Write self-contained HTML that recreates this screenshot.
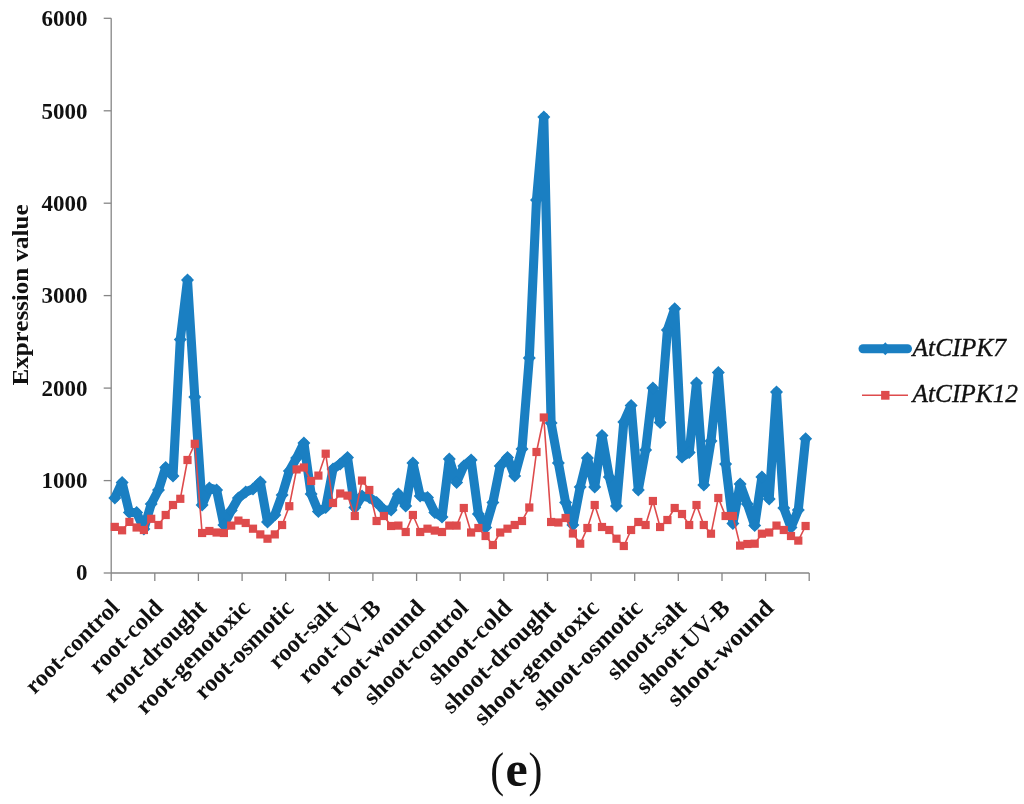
<!DOCTYPE html><html><head><meta charset="utf-8"><title>Expression value</title>
<style>html,body{margin:0;padding:0;background:#fff}svg{display:block}text{font-family:"Liberation Serif", serif;fill:#111}</style></head><body>
<svg width="1024" height="804" viewBox="0 0 1024 804">
<rect width="1024" height="804" fill="#fff"/>
<g stroke="#868686" stroke-width="1.3" fill="none">
<path d="M111.2 18.3 V573.0"/>
<path d="M111.2 573.0 H809.2"/>
<path d="M103.7 573.0 H111.2"/>
<path d="M103.7 480.6 H111.2"/>
<path d="M103.7 388.1 H111.2"/>
<path d="M103.7 295.6 H111.2"/>
<path d="M103.7 203.2 H111.2"/>
<path d="M103.7 110.8 H111.2"/>
<path d="M103.7 18.3 H111.2"/>
<path d="M111.2 573.0 V581.0"/>
<path d="M154.8 573.0 V581.0"/>
<path d="M198.4 573.0 V581.0"/>
<path d="M242.1 573.0 V581.0"/>
<path d="M285.7 573.0 V581.0"/>
<path d="M329.3 573.0 V581.0"/>
<path d="M372.9 573.0 V581.0"/>
<path d="M416.6 573.0 V581.0"/>
<path d="M460.2 573.0 V581.0"/>
<path d="M503.8 573.0 V581.0"/>
<path d="M547.5 573.0 V581.0"/>
<path d="M591.1 573.0 V581.0"/>
<path d="M634.7 573.0 V581.0"/>
<path d="M678.3 573.0 V581.0"/>
<path d="M722.0 573.0 V581.0"/>
<path d="M765.6 573.0 V581.0"/>
<path d="M809.2 573.0 V581.0"/>
</g>
<g font-size="23" font-weight="bold" text-anchor="end">
<text x="87.5" y="580.4">0</text>
<text x="87.5" y="488.0">1000</text>
<text x="87.5" y="395.7">2000</text>
<text x="87.5" y="303.3">3000</text>
<text x="87.5" y="210.9">4000</text>
<text x="87.5" y="118.6">5000</text>
<text x="87.5" y="26.2">6000</text>
</g>
<text font-size="24" font-weight="bold" text-anchor="middle" textLength="181" lengthAdjust="spacingAndGlyphs" transform="translate(27.8 295) rotate(-90)">Expression value</text>
<g font-size="24" font-weight="bold" text-anchor="end" lengthAdjust="spacingAndGlyphs">
<text textLength="121.5" lengthAdjust="spacingAndGlyphs" transform="translate(120.5 609.2) rotate(-45)">root-control</text>
<text textLength="93.0" lengthAdjust="spacingAndGlyphs" transform="translate(164.1 609.2) rotate(-45)">root-cold</text>
<text textLength="133.8" lengthAdjust="spacingAndGlyphs" transform="translate(207.8 609.2) rotate(-45)">root-drought</text>
<text textLength="150.5" lengthAdjust="spacingAndGlyphs" transform="translate(251.4 609.2) rotate(-45)">root-genotoxic</text>
<text textLength="129.2" lengthAdjust="spacingAndGlyphs" transform="translate(295.0 609.2) rotate(-45)">root-osmotic</text>
<text textLength="86.0" lengthAdjust="spacingAndGlyphs" transform="translate(338.6 609.2) rotate(-45)">root-salt</text>
<text textLength="106.3" lengthAdjust="spacingAndGlyphs" transform="translate(382.3 609.2) rotate(-45)">root-UV-B</text>
<text textLength="123.9" lengthAdjust="spacingAndGlyphs" transform="translate(425.9 609.2) rotate(-45)">root-wound</text>
<text textLength="137.0" lengthAdjust="spacingAndGlyphs" transform="translate(469.5 609.2) rotate(-45)">shoot-control</text>
<text textLength="108.5" lengthAdjust="spacingAndGlyphs" transform="translate(513.1 609.2) rotate(-45)">shoot-cold</text>
<text textLength="149.3" lengthAdjust="spacingAndGlyphs" transform="translate(556.8 609.2) rotate(-45)">shoot-drought</text>
<text textLength="166.0" lengthAdjust="spacingAndGlyphs" transform="translate(600.4 609.2) rotate(-45)">shoot-genotoxic</text>
<text textLength="144.7" lengthAdjust="spacingAndGlyphs" transform="translate(644.0 609.2) rotate(-45)">shoot-osmotic</text>
<text textLength="101.5" lengthAdjust="spacingAndGlyphs" transform="translate(687.6 609.2) rotate(-45)">shoot-salt</text>
<text textLength="121.8" lengthAdjust="spacingAndGlyphs" transform="translate(731.3 609.2) rotate(-45)">shoot-UV-B</text>
<text textLength="139.4" lengthAdjust="spacingAndGlyphs" transform="translate(774.9 609.2) rotate(-45)">shoot-wound</text>
</g>
<polyline points="114.8,498.0 122.1,482.5 129.4,512.5 136.6,512.5 143.9,529.0 151.2,504.0 158.5,490.0 165.7,467.5 173.0,476.0 180.3,339.4 187.5,280.0 194.8,397.0 202.1,505.0 209.4,488.0 216.6,490.0 223.9,525.0 231.2,510.5 238.4,498.0 245.7,492.0 253.0,489.0 260.3,482.0 267.5,522.0 274.8,515.0 282.1,495.0 289.3,471.0 296.6,458.0 303.9,443.0 311.1,494.0 318.4,511.5 325.7,507.5 333.0,469.0 340.2,464.0 347.5,457.5 354.8,507.5 362.0,496.0 369.3,497.5 376.6,502.5 383.9,510.0 391.1,510.0 398.4,494.0 405.7,506.0 412.9,463.0 420.2,496.0 427.5,497.5 434.8,512.5 442.0,517.0 449.3,459.0 456.6,482.5 463.8,466.0 471.1,460.0 478.4,514.0 485.6,527.5 492.9,502.5 500.2,466.0 507.5,457.5 514.7,476.0 522.0,449.0 529.3,358.0 536.5,200.0 543.8,117.0 551.1,423.0 558.4,463.0 565.6,502.5 572.9,525.0 580.2,487.0 587.4,458.0 594.7,487.0 602.0,435.6 609.3,477.0 616.5,506.0 623.8,422.0 631.1,405.6 638.3,490.0 645.6,450.0 652.9,388.0 660.1,422.5 667.4,330.0 674.7,308.8 682.0,457.0 689.2,452.5 696.5,383.0 703.8,485.0 711.0,441.0 718.3,372.5 725.6,464.0 732.9,523.5 740.1,484.0 747.4,504.0 754.7,525.5 761.9,477.0 769.2,499.0 776.5,392.0 783.8,508.0 791.0,527.5 798.3,510.0 805.6,438.8" fill="none" stroke="#1a7fc2" stroke-width="9.1" stroke-linejoin="round" stroke-linecap="round"/>
<g fill="#1a7fc2">
<path d="M114.8 491.5l6.5 6.5l-6.5 6.5l-6.5 -6.5z"/>
<path d="M122.1 476.0l6.5 6.5l-6.5 6.5l-6.5 -6.5z"/>
<path d="M129.4 506.0l6.5 6.5l-6.5 6.5l-6.5 -6.5z"/>
<path d="M136.6 506.0l6.5 6.5l-6.5 6.5l-6.5 -6.5z"/>
<path d="M143.9 522.5l6.5 6.5l-6.5 6.5l-6.5 -6.5z"/>
<path d="M151.2 497.5l6.5 6.5l-6.5 6.5l-6.5 -6.5z"/>
<path d="M158.5 483.5l6.5 6.5l-6.5 6.5l-6.5 -6.5z"/>
<path d="M165.7 461.0l6.5 6.5l-6.5 6.5l-6.5 -6.5z"/>
<path d="M173.0 469.5l6.5 6.5l-6.5 6.5l-6.5 -6.5z"/>
<path d="M180.3 332.9l6.5 6.5l-6.5 6.5l-6.5 -6.5z"/>
<path d="M187.5 273.5l6.5 6.5l-6.5 6.5l-6.5 -6.5z"/>
<path d="M194.8 390.5l6.5 6.5l-6.5 6.5l-6.5 -6.5z"/>
<path d="M202.1 498.5l6.5 6.5l-6.5 6.5l-6.5 -6.5z"/>
<path d="M209.4 481.5l6.5 6.5l-6.5 6.5l-6.5 -6.5z"/>
<path d="M216.6 483.5l6.5 6.5l-6.5 6.5l-6.5 -6.5z"/>
<path d="M223.9 518.5l6.5 6.5l-6.5 6.5l-6.5 -6.5z"/>
<path d="M231.2 504.0l6.5 6.5l-6.5 6.5l-6.5 -6.5z"/>
<path d="M238.4 491.5l6.5 6.5l-6.5 6.5l-6.5 -6.5z"/>
<path d="M245.7 485.5l6.5 6.5l-6.5 6.5l-6.5 -6.5z"/>
<path d="M253.0 482.5l6.5 6.5l-6.5 6.5l-6.5 -6.5z"/>
<path d="M260.3 475.5l6.5 6.5l-6.5 6.5l-6.5 -6.5z"/>
<path d="M267.5 515.5l6.5 6.5l-6.5 6.5l-6.5 -6.5z"/>
<path d="M274.8 508.5l6.5 6.5l-6.5 6.5l-6.5 -6.5z"/>
<path d="M282.1 488.5l6.5 6.5l-6.5 6.5l-6.5 -6.5z"/>
<path d="M289.3 464.5l6.5 6.5l-6.5 6.5l-6.5 -6.5z"/>
<path d="M296.6 451.5l6.5 6.5l-6.5 6.5l-6.5 -6.5z"/>
<path d="M303.9 436.5l6.5 6.5l-6.5 6.5l-6.5 -6.5z"/>
<path d="M311.1 487.5l6.5 6.5l-6.5 6.5l-6.5 -6.5z"/>
<path d="M318.4 505.0l6.5 6.5l-6.5 6.5l-6.5 -6.5z"/>
<path d="M325.7 501.0l6.5 6.5l-6.5 6.5l-6.5 -6.5z"/>
<path d="M333.0 462.5l6.5 6.5l-6.5 6.5l-6.5 -6.5z"/>
<path d="M340.2 457.5l6.5 6.5l-6.5 6.5l-6.5 -6.5z"/>
<path d="M347.5 451.0l6.5 6.5l-6.5 6.5l-6.5 -6.5z"/>
<path d="M354.8 501.0l6.5 6.5l-6.5 6.5l-6.5 -6.5z"/>
<path d="M362.0 489.5l6.5 6.5l-6.5 6.5l-6.5 -6.5z"/>
<path d="M369.3 491.0l6.5 6.5l-6.5 6.5l-6.5 -6.5z"/>
<path d="M376.6 496.0l6.5 6.5l-6.5 6.5l-6.5 -6.5z"/>
<path d="M383.9 503.5l6.5 6.5l-6.5 6.5l-6.5 -6.5z"/>
<path d="M391.1 503.5l6.5 6.5l-6.5 6.5l-6.5 -6.5z"/>
<path d="M398.4 487.5l6.5 6.5l-6.5 6.5l-6.5 -6.5z"/>
<path d="M405.7 499.5l6.5 6.5l-6.5 6.5l-6.5 -6.5z"/>
<path d="M412.9 456.5l6.5 6.5l-6.5 6.5l-6.5 -6.5z"/>
<path d="M420.2 489.5l6.5 6.5l-6.5 6.5l-6.5 -6.5z"/>
<path d="M427.5 491.0l6.5 6.5l-6.5 6.5l-6.5 -6.5z"/>
<path d="M434.8 506.0l6.5 6.5l-6.5 6.5l-6.5 -6.5z"/>
<path d="M442.0 510.5l6.5 6.5l-6.5 6.5l-6.5 -6.5z"/>
<path d="M449.3 452.5l6.5 6.5l-6.5 6.5l-6.5 -6.5z"/>
<path d="M456.6 476.0l6.5 6.5l-6.5 6.5l-6.5 -6.5z"/>
<path d="M463.8 459.5l6.5 6.5l-6.5 6.5l-6.5 -6.5z"/>
<path d="M471.1 453.5l6.5 6.5l-6.5 6.5l-6.5 -6.5z"/>
<path d="M478.4 507.5l6.5 6.5l-6.5 6.5l-6.5 -6.5z"/>
<path d="M485.6 521.0l6.5 6.5l-6.5 6.5l-6.5 -6.5z"/>
<path d="M492.9 496.0l6.5 6.5l-6.5 6.5l-6.5 -6.5z"/>
<path d="M500.2 459.5l6.5 6.5l-6.5 6.5l-6.5 -6.5z"/>
<path d="M507.5 451.0l6.5 6.5l-6.5 6.5l-6.5 -6.5z"/>
<path d="M514.7 469.5l6.5 6.5l-6.5 6.5l-6.5 -6.5z"/>
<path d="M522.0 442.5l6.5 6.5l-6.5 6.5l-6.5 -6.5z"/>
<path d="M529.3 351.5l6.5 6.5l-6.5 6.5l-6.5 -6.5z"/>
<path d="M536.5 193.5l6.5 6.5l-6.5 6.5l-6.5 -6.5z"/>
<path d="M543.8 110.5l6.5 6.5l-6.5 6.5l-6.5 -6.5z"/>
<path d="M551.1 416.5l6.5 6.5l-6.5 6.5l-6.5 -6.5z"/>
<path d="M558.4 456.5l6.5 6.5l-6.5 6.5l-6.5 -6.5z"/>
<path d="M565.6 496.0l6.5 6.5l-6.5 6.5l-6.5 -6.5z"/>
<path d="M572.9 518.5l6.5 6.5l-6.5 6.5l-6.5 -6.5z"/>
<path d="M580.2 480.5l6.5 6.5l-6.5 6.5l-6.5 -6.5z"/>
<path d="M587.4 451.5l6.5 6.5l-6.5 6.5l-6.5 -6.5z"/>
<path d="M594.7 480.5l6.5 6.5l-6.5 6.5l-6.5 -6.5z"/>
<path d="M602.0 429.1l6.5 6.5l-6.5 6.5l-6.5 -6.5z"/>
<path d="M609.3 470.5l6.5 6.5l-6.5 6.5l-6.5 -6.5z"/>
<path d="M616.5 499.5l6.5 6.5l-6.5 6.5l-6.5 -6.5z"/>
<path d="M623.8 415.5l6.5 6.5l-6.5 6.5l-6.5 -6.5z"/>
<path d="M631.1 399.1l6.5 6.5l-6.5 6.5l-6.5 -6.5z"/>
<path d="M638.3 483.5l6.5 6.5l-6.5 6.5l-6.5 -6.5z"/>
<path d="M645.6 443.5l6.5 6.5l-6.5 6.5l-6.5 -6.5z"/>
<path d="M652.9 381.5l6.5 6.5l-6.5 6.5l-6.5 -6.5z"/>
<path d="M660.1 416.0l6.5 6.5l-6.5 6.5l-6.5 -6.5z"/>
<path d="M667.4 323.5l6.5 6.5l-6.5 6.5l-6.5 -6.5z"/>
<path d="M674.7 302.2l6.5 6.5l-6.5 6.5l-6.5 -6.5z"/>
<path d="M682.0 450.5l6.5 6.5l-6.5 6.5l-6.5 -6.5z"/>
<path d="M689.2 446.0l6.5 6.5l-6.5 6.5l-6.5 -6.5z"/>
<path d="M696.5 376.5l6.5 6.5l-6.5 6.5l-6.5 -6.5z"/>
<path d="M703.8 478.5l6.5 6.5l-6.5 6.5l-6.5 -6.5z"/>
<path d="M711.0 434.5l6.5 6.5l-6.5 6.5l-6.5 -6.5z"/>
<path d="M718.3 366.0l6.5 6.5l-6.5 6.5l-6.5 -6.5z"/>
<path d="M725.6 457.5l6.5 6.5l-6.5 6.5l-6.5 -6.5z"/>
<path d="M732.9 517.0l6.5 6.5l-6.5 6.5l-6.5 -6.5z"/>
<path d="M740.1 477.5l6.5 6.5l-6.5 6.5l-6.5 -6.5z"/>
<path d="M747.4 497.5l6.5 6.5l-6.5 6.5l-6.5 -6.5z"/>
<path d="M754.7 519.0l6.5 6.5l-6.5 6.5l-6.5 -6.5z"/>
<path d="M761.9 470.5l6.5 6.5l-6.5 6.5l-6.5 -6.5z"/>
<path d="M769.2 492.5l6.5 6.5l-6.5 6.5l-6.5 -6.5z"/>
<path d="M776.5 385.5l6.5 6.5l-6.5 6.5l-6.5 -6.5z"/>
<path d="M783.8 501.5l6.5 6.5l-6.5 6.5l-6.5 -6.5z"/>
<path d="M791.0 521.0l6.5 6.5l-6.5 6.5l-6.5 -6.5z"/>
<path d="M798.3 503.5l6.5 6.5l-6.5 6.5l-6.5 -6.5z"/>
<path d="M805.6 432.2l6.5 6.5l-6.5 6.5l-6.5 -6.5z"/>
</g>
<polyline points="114.8,526.9 122.1,530.3 129.4,521.9 136.6,527.5 143.9,530.0 151.2,518.8 158.5,525.0 165.7,515.0 173.0,505.0 180.3,498.8 187.5,460.0 194.8,443.8 202.1,533.0 209.4,531.0 216.6,532.5 223.9,533.0 231.2,525.6 238.4,520.6 245.7,523.0 253.0,528.8 260.3,534.4 267.5,538.8 274.8,534.4 282.1,525.0 289.3,506.2 296.6,469.4 303.9,467.5 311.1,481.0 318.4,475.6 325.7,453.8 333.0,503.0 340.2,493.5 347.5,495.6 354.8,516.0 362.0,480.6 369.3,490.0 376.6,521.0 383.9,516.0 391.1,526.0 398.4,525.6 405.7,532.0 412.9,515.0 420.2,532.0 427.5,528.8 434.8,530.6 442.0,532.0 449.3,525.6 456.6,525.6 463.8,508.0 471.1,532.5 478.4,528.0 485.6,536.0 492.9,545.0 500.2,532.5 507.5,528.8 514.7,525.0 522.0,521.0 529.3,507.5 536.5,452.0 543.8,417.5 551.1,522.0 558.4,522.5 565.6,518.0 572.9,533.5 580.2,543.8 587.4,528.0 594.7,505.0 602.0,527.0 609.3,530.0 616.5,538.8 623.8,546.0 631.1,530.0 638.3,522.0 645.6,525.0 652.9,501.0 660.1,527.0 667.4,520.0 674.7,508.0 682.0,514.0 689.2,525.0 696.5,505.0 703.8,525.0 711.0,533.8 718.3,498.0 725.6,516.0 732.9,516.0 740.1,545.6 747.4,544.0 754.7,543.8 761.9,533.8 769.2,532.5 776.5,525.6 783.8,530.0 791.0,536.0 798.3,540.6 805.6,526.0" fill="none" stroke="#de4b4c" stroke-width="1.6" stroke-linejoin="round"/>
<g fill="#de4b4c">
<rect x="110.7" y="522.8" width="8.2" height="8.2"/>
<rect x="118.0" y="526.2" width="8.2" height="8.2"/>
<rect x="125.3" y="517.8" width="8.2" height="8.2"/>
<rect x="132.5" y="523.4" width="8.2" height="8.2"/>
<rect x="139.8" y="525.9" width="8.2" height="8.2"/>
<rect x="147.1" y="514.7" width="8.2" height="8.2"/>
<rect x="154.4" y="520.9" width="8.2" height="8.2"/>
<rect x="161.6" y="510.9" width="8.2" height="8.2"/>
<rect x="168.9" y="500.9" width="8.2" height="8.2"/>
<rect x="176.2" y="494.7" width="8.2" height="8.2"/>
<rect x="183.4" y="455.9" width="8.2" height="8.2"/>
<rect x="190.7" y="439.7" width="8.2" height="8.2"/>
<rect x="198.0" y="528.9" width="8.2" height="8.2"/>
<rect x="205.3" y="526.9" width="8.2" height="8.2"/>
<rect x="212.5" y="528.4" width="8.2" height="8.2"/>
<rect x="219.8" y="528.9" width="8.2" height="8.2"/>
<rect x="227.1" y="521.5" width="8.2" height="8.2"/>
<rect x="234.3" y="516.5" width="8.2" height="8.2"/>
<rect x="241.6" y="518.9" width="8.2" height="8.2"/>
<rect x="248.9" y="524.6" width="8.2" height="8.2"/>
<rect x="256.2" y="530.3" width="8.2" height="8.2"/>
<rect x="263.4" y="534.6" width="8.2" height="8.2"/>
<rect x="270.7" y="530.3" width="8.2" height="8.2"/>
<rect x="278.0" y="520.9" width="8.2" height="8.2"/>
<rect x="285.2" y="502.1" width="8.2" height="8.2"/>
<rect x="292.5" y="465.3" width="8.2" height="8.2"/>
<rect x="299.8" y="463.4" width="8.2" height="8.2"/>
<rect x="307.0" y="476.9" width="8.2" height="8.2"/>
<rect x="314.3" y="471.5" width="8.2" height="8.2"/>
<rect x="321.6" y="449.6" width="8.2" height="8.2"/>
<rect x="328.9" y="498.9" width="8.2" height="8.2"/>
<rect x="336.1" y="489.4" width="8.2" height="8.2"/>
<rect x="343.4" y="491.5" width="8.2" height="8.2"/>
<rect x="350.7" y="511.9" width="8.2" height="8.2"/>
<rect x="357.9" y="476.5" width="8.2" height="8.2"/>
<rect x="365.2" y="485.9" width="8.2" height="8.2"/>
<rect x="372.5" y="516.9" width="8.2" height="8.2"/>
<rect x="379.8" y="511.9" width="8.2" height="8.2"/>
<rect x="387.0" y="521.9" width="8.2" height="8.2"/>
<rect x="394.3" y="521.5" width="8.2" height="8.2"/>
<rect x="401.6" y="527.9" width="8.2" height="8.2"/>
<rect x="408.8" y="510.9" width="8.2" height="8.2"/>
<rect x="416.1" y="527.9" width="8.2" height="8.2"/>
<rect x="423.4" y="524.6" width="8.2" height="8.2"/>
<rect x="430.7" y="526.5" width="8.2" height="8.2"/>
<rect x="437.9" y="527.9" width="8.2" height="8.2"/>
<rect x="445.2" y="521.5" width="8.2" height="8.2"/>
<rect x="452.5" y="521.5" width="8.2" height="8.2"/>
<rect x="459.7" y="503.9" width="8.2" height="8.2"/>
<rect x="467.0" y="528.4" width="8.2" height="8.2"/>
<rect x="474.3" y="523.9" width="8.2" height="8.2"/>
<rect x="481.5" y="531.9" width="8.2" height="8.2"/>
<rect x="488.8" y="540.9" width="8.2" height="8.2"/>
<rect x="496.1" y="528.4" width="8.2" height="8.2"/>
<rect x="503.4" y="524.6" width="8.2" height="8.2"/>
<rect x="510.6" y="520.9" width="8.2" height="8.2"/>
<rect x="517.9" y="516.9" width="8.2" height="8.2"/>
<rect x="525.2" y="503.4" width="8.2" height="8.2"/>
<rect x="532.4" y="447.9" width="8.2" height="8.2"/>
<rect x="539.7" y="413.4" width="8.2" height="8.2"/>
<rect x="547.0" y="517.9" width="8.2" height="8.2"/>
<rect x="554.3" y="518.4" width="8.2" height="8.2"/>
<rect x="561.5" y="513.9" width="8.2" height="8.2"/>
<rect x="568.8" y="529.4" width="8.2" height="8.2"/>
<rect x="576.1" y="539.6" width="8.2" height="8.2"/>
<rect x="583.3" y="523.9" width="8.2" height="8.2"/>
<rect x="590.6" y="500.9" width="8.2" height="8.2"/>
<rect x="597.9" y="522.9" width="8.2" height="8.2"/>
<rect x="605.2" y="525.9" width="8.2" height="8.2"/>
<rect x="612.4" y="534.6" width="8.2" height="8.2"/>
<rect x="619.7" y="541.9" width="8.2" height="8.2"/>
<rect x="627.0" y="525.9" width="8.2" height="8.2"/>
<rect x="634.2" y="517.9" width="8.2" height="8.2"/>
<rect x="641.5" y="520.9" width="8.2" height="8.2"/>
<rect x="648.8" y="496.9" width="8.2" height="8.2"/>
<rect x="656.0" y="522.9" width="8.2" height="8.2"/>
<rect x="663.3" y="515.9" width="8.2" height="8.2"/>
<rect x="670.6" y="503.9" width="8.2" height="8.2"/>
<rect x="677.9" y="509.9" width="8.2" height="8.2"/>
<rect x="685.1" y="520.9" width="8.2" height="8.2"/>
<rect x="692.4" y="500.9" width="8.2" height="8.2"/>
<rect x="699.7" y="520.9" width="8.2" height="8.2"/>
<rect x="706.9" y="529.6" width="8.2" height="8.2"/>
<rect x="714.2" y="493.9" width="8.2" height="8.2"/>
<rect x="721.5" y="511.9" width="8.2" height="8.2"/>
<rect x="728.8" y="511.9" width="8.2" height="8.2"/>
<rect x="736.0" y="541.5" width="8.2" height="8.2"/>
<rect x="743.3" y="539.9" width="8.2" height="8.2"/>
<rect x="750.6" y="539.6" width="8.2" height="8.2"/>
<rect x="757.8" y="529.6" width="8.2" height="8.2"/>
<rect x="765.1" y="528.4" width="8.2" height="8.2"/>
<rect x="772.4" y="521.5" width="8.2" height="8.2"/>
<rect x="779.7" y="525.9" width="8.2" height="8.2"/>
<rect x="786.9" y="531.9" width="8.2" height="8.2"/>
<rect x="794.2" y="536.5" width="8.2" height="8.2"/>
<rect x="801.5" y="521.9" width="8.2" height="8.2"/>
</g>
<path d="M863 348.8H907.5" stroke="#1a7fc2" stroke-width="9" stroke-linecap="round" fill="none"/>
<path d="M885.3 342.3l6 6.5l-6 6.5l-6 -6.5z" fill="#1a7fc2"/>
<path d="M862 395.3H908" stroke="#de4b4c" stroke-width="1.6" fill="none"/>
<rect x="881.1" y="390.9" width="8.4" height="8.8" fill="#de4b4c"/>
<text x="912.5" y="356.4" font-size="25.5" font-style="italic" stroke="#111" stroke-width="0.35" textLength="93.5" lengthAdjust="spacingAndGlyphs">AtCIPK7</text>
<text x="912.5" y="402.3" font-size="25.5" font-style="italic" stroke="#111" stroke-width="0.35" textLength="105.5" lengthAdjust="spacingAndGlyphs">AtCIPK12</text>
<text font-size="49" transform="translate(490.35 785.8) scale(0.85 1)">(</text>
<text x="505.5" y="785.8" font-size="50" font-weight="bold">e</text>
<text font-size="49" transform="translate(528.55 785.8) scale(0.85 1)">)</text>
</svg></body></html>
